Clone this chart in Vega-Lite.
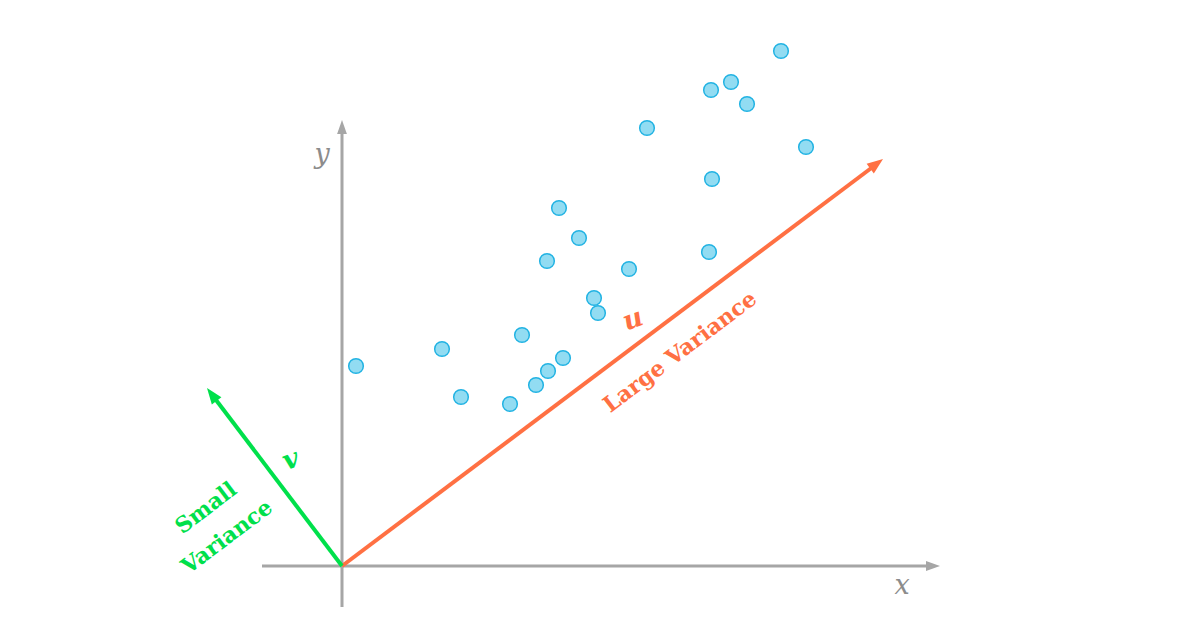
{
  "$schema": "https://vega.github.io/schema/vega-lite/v6.json",
  "width": 1200,
  "height": 628,
  "autosize": {"type": "fit", "contains": "padding"},
  "padding": 0,
  "background": "white",
  "config": {"view": {"stroke": null}},
  "datasets": {
    "axes": [
      {"x": -80, "y": 0, "x2": 588, "y2": 0},
      {"x": 0, "y": -41, "x2": 0, "y2": 436}
    ],
    "axisHeads": [
      {"x": 598, "y": 0, "angle": 90},
      {"x": 0, "y": 446, "angle": 0}
    ],
    "uVec": [{"x": 0, "y": 0, "x2": 532, "y2": 400}],
    "uHead": [{"x": 541, "y": 407, "angle": 53}],
    "vVec": [{"x": 0, "y": 0, "x2": -129, "y2": 170}],
    "vHead": [{"x": -135, "y": 178, "angle": 323}],
    "points": [
      {"x": 14, "y": 200}, {"x": 100, "y": 217}, {"x": 119, "y": 169}, {"x": 168, "y": 162},
      {"x": 180, "y": 231}, {"x": 194, "y": 181}, {"x": 206, "y": 195}, {"x": 221, "y": 208},
      {"x": 205, "y": 305}, {"x": 217, "y": 358}, {"x": 237, "y": 328}, {"x": 252, "y": 268},
      {"x": 256, "y": 253}, {"x": 287, "y": 297}, {"x": 305, "y": 438}, {"x": 367, "y": 314},
      {"x": 370, "y": 387}, {"x": 369, "y": 476}, {"x": 389, "y": 484}, {"x": 405, "y": 462},
      {"x": 439, "y": 515}, {"x": 464, "y": 419}
    ],
    "axisLabels": [
      {"x": 560, "y": -20, "label": "x"},
      {"x": -20, "y": 411, "label": "y"}
    ],
    "uText": [{"x": 338, "y": 214, "label": "Large Variance"}],
    "uSym": [{"x": 291, "y": 246, "label": "u"}],
    "vText": [
      {"x": -136, "y": 58, "label": "Small"},
      {"x": -115, "y": 29, "label": "Variance"}
    ],
    "vSym": [{"x": -51, "y": 106, "label": "v"}]
  },
  "encoding": {
    "x": {"field": "x", "type": "quantitative", "scale": {"domain": [-342, 858], "nice": false, "zero": false}, "axis": null},
    "y": {"field": "y", "type": "quantitative", "scale": {"domain": [-62, 566], "nice": false, "zero": false}, "axis": null}
  },
  "layer": [
    {
      "data": {"name": "axes"},
      "mark": {"type": "rule", "color": "#a6a6a6", "strokeWidth": 3},
      "encoding": {"x2": {"field": "x2"}, "y2": {"field": "y2"}}
    },
    {
      "data": {"name": "axisHeads"},
      "mark": {"type": "point", "shape": "M0,0L-0.7,2L0.7,2Z", "filled": true, "color": "#a6a6a6", "size": 196, "opacity": 1},
      "encoding": {"angle": {"field": "angle", "type": "quantitative", "scale": null}}
    },
    {
      "data": {"name": "uVec"},
      "mark": {"type": "rule", "color": "#ff7043", "strokeWidth": 4},
      "encoding": {"x2": {"field": "x2"}, "y2": {"field": "y2"}}
    },
    {
      "data": {"name": "uHead"},
      "mark": {"type": "point", "shape": "M0,0L-0.75,2L0.75,2Z", "filled": true, "color": "#ff7043", "size": 256, "opacity": 1},
      "encoding": {"angle": {"field": "angle", "type": "quantitative", "scale": null}}
    },
    {
      "data": {"name": "vVec"},
      "mark": {"type": "rule", "color": "#00e04b", "strokeWidth": 4},
      "encoding": {"x2": {"field": "x2"}, "y2": {"field": "y2"}}
    },
    {
      "data": {"name": "vHead"},
      "mark": {"type": "point", "shape": "M0,0L-0.75,2L0.75,2Z", "filled": true, "color": "#00e04b", "size": 256, "opacity": 1},
      "encoding": {"angle": {"field": "angle", "type": "quantitative", "scale": null}}
    },
    {
      "data": {"name": "points"},
      "mark": {"type": "circle", "size": 215, "fill": "#92dcf2", "fillOpacity": 1, "stroke": "#22b3e3", "strokeWidth": 1.5}
    },
    {
      "data": {"name": "axisLabels"},
      "mark": {"type": "text", "font": "DejaVu Serif", "fontStyle": "italic", "fontSize": 27, "color": "#8c8c8c", "align": "center", "baseline": "middle"},
      "encoding": {"text": {"field": "label"}}
    },
    {
      "data": {"name": "uText"},
      "mark": {"type": "text", "font": "DejaVu Serif", "fontWeight": "bold", "fontSize": 22, "color": "#ff7043", "align": "center", "baseline": "middle", "angle": 323},
      "encoding": {"text": {"field": "label"}}
    },
    {
      "data": {"name": "uSym"},
      "mark": {"type": "text", "font": "DejaVu Serif", "fontWeight": "bold", "fontStyle": "italic", "fontSize": 27, "color": "#ff7043", "align": "center", "baseline": "middle", "angle": 340},
      "encoding": {"text": {"field": "label"}}
    },
    {
      "data": {"name": "vText"},
      "mark": {"type": "text", "font": "DejaVu Serif", "fontWeight": "bold", "fontSize": 22, "color": "#00e04b", "align": "center", "baseline": "middle", "angle": 323},
      "encoding": {"text": {"field": "label"}}
    },
    {
      "data": {"name": "vSym"},
      "mark": {"type": "text", "font": "DejaVu Serif", "fontWeight": "bold", "fontStyle": "italic", "fontSize": 27, "color": "#00e04b", "align": "center", "baseline": "middle", "angle": 340},
      "encoding": {"text": {"field": "label"}}
    }
  ]
}
